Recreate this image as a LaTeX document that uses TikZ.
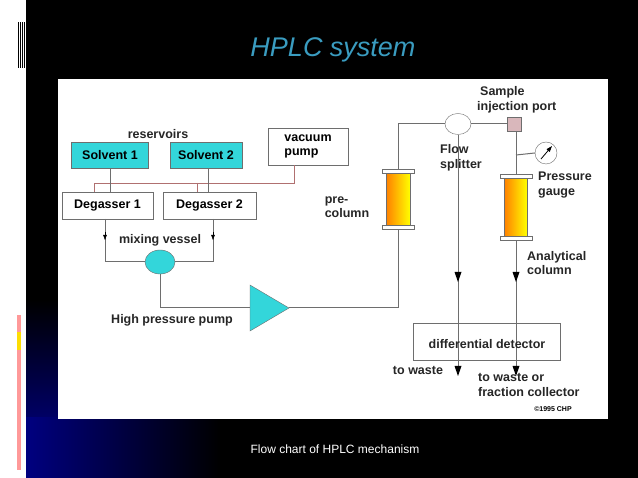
\documentclass[tikz,border=0pt]{standalone}
\usepackage{fontspec}
\setmainfont{Liberation Sans}
\usetikzlibrary{arrows.meta,shapes.geometric}
\definecolor{cy}{HTML}{33D6DA}
\definecolor{ln}{HTML}{6E6E6E}
\definecolor{rd}{HTML}{B07070}
\definecolor{inj}{HTML}{D9B7BB}
\definecolor{tt}{HTML}{3A9CC0}
\begin{document}
\begin{tikzpicture}[x=1pt,y=-1pt,
  lbl/.style={font=\fontsize{12.5}{14.5}\selectfont\bfseries, text=black!85, inner sep=0pt, align=left},
  box/.style={draw=ln, line width=0.8pt, font=\fontsize{12.5}{14.5}\selectfont\bfseries, inner sep=0pt},
  pipe/.style={draw=ln, line width=1pt},
  flange/.style={draw=ln, fill=white, line width=0.8pt}]
\useasboundingbox (0,0) rectangle (638,478);
\fill[black] (0,0) rectangle (638,478);
\fill[white] (0,0) rectangle (26,478);
\shade[bottom color=blue!60!black, top color=black] (26,300) rectangle (60,478);
\shade[left color=blue!50!black, right color=black] (26,418) rectangle (220,478);
\fill[white] (17,20) rectangle (25,70);
\foreach \i in {18,20,22,24}{\fill[black] (\i,22) rectangle (\i+0.8,68);}
\fill[pink!80!red] (17,315) rectangle (21,470);
\fill[yellow!80!orange] (17,332) rectangle (21,350);
\fill[white] (58,79) rectangle (608,419);
\node[font=\fontsize{27}{29}\selectfont\itshape, text=tt] (title) at (333,50) {HPLC system};
\node[font=\fontsize{12}{14}\selectfont, text=white] (cap) at (335,449) {Flow chart of HPLC mechanism};
% boxes
\node[box, fill=cy, minimum width=77, minimum height=26] (s1) at (110,155) {Solvent 1};
\node[box, fill=cy, minimum width=72, minimum height=26] (s2) at (206,155) {Solvent 2};
\node[box, fill=white, minimum width=80, minimum height=37, align=left] (vp) at (308,146.5) {vacuum\\pump};
\node[lbl] (res) at (158,134) {reservoirs};
\node[box, minimum width=91, minimum height=27] (d1) at (107.5,205.5) {Degasser 1};
\node[box, minimum width=93, minimum height=27] (d2) at (209.5,205.5) {Degasser 2};
\node[lbl] (mv) at (160,240) {mixing vessel};
\node[ellipse, draw=ln, fill=cy, minimum width=30, minimum height=24, inner sep=0pt] (mix) at (160,262) {};
\coordinate (pump) at (250,308);
\coordinate (apex) at (289,308);
\draw[ln, fill=cy] (250,285) -- (apex) -- (250,331) -- cycle;
\node[lbl] (hpp) at (172,320) {High pressure pump};
% vacuum lines
\coordinate (vj) at (294,183);
\draw[rd, line width=0.8pt] (vp.south -| vj) -- (vj) -- (94,183) -- (94,192);
\draw[rd, line width=0.8pt] (197,183) -- (197,192);
\draw[pipe] (s1.south -| 110,0) -- (110,192);
\draw[pipe] (s2.south -| 208,0) -- (208,192);
% to mixer
\draw[pipe] (105,219) -- (105,262) -- (mix.west);
\draw[pipe] (213,219) -- (213,262) -- (mix.east);
\draw[-{Triangle[length=5pt,width=3.5pt]},black] (105,232) -- (105,240);
\draw[-{Triangle[length=5pt,width=3.5pt]},black] (213,232) -- (213,240);
\draw[pipe] (mix.south) -- (160,308) -- (pump);
% precolumn
\coordinate (pc) at (398,124);
\node[ellipse, draw=ln, fill=white, minimum width=26, minimum height=21, inner sep=0pt] (fs) at (458,124) {};
\draw[pipe] (apex) -- (398,308) -- (pc) -- (fs.west);
\shade[left color=orange, right color=yellow] (386,172) rectangle (410,226);
\draw[ln, line width=0.6pt] (386,172) rectangle (410,226);
\draw[flange] (382,169) rectangle (414,173);
\draw[flange] (382,225) rectangle (414,229);
\node[lbl] (prec) at (347,207) {pre-\\column};
% injection
\node[draw=ln, fill=inj, minimum size=14, inner sep=0pt] (ip) at (514,124) {};
\draw[pipe] (fs.east) -- (ip.west);
\node[lbl, align=left, anchor=west] (ipl) at (477,100) {\hspace*{3pt}Sample\\injection port};
\node[lbl, align=left] (fsl) at (461,158) {Flow\\splitter};
% analytical column
\draw[pipe] (516,131) -- (516,366);
\shade[left color=orange, right color=yellow] (504,177) rectangle (527,237);
\draw[ln, line width=0.6pt] (504,177) rectangle (527,237);
\draw[flange] (500,174) rectangle (532,178);
\draw[flange] (500,236) rectangle (532,240);
\fill[black] (516,282) -- (512.5,272) -- (519.5,272) -- cycle;
% gauge
\node[circle, draw=ln, fill=white, minimum size=22, inner sep=0pt] (pg) at (546,153) {};
\draw[pipe] (516,155) -- (pg.west);
\draw[-{Triangle[length=6pt,width=4pt]}, black, line width=0.8pt] (541,159) -- (552,146);
\node[lbl, align=left, anchor=west] (pgl) at (538,185) {Pressure\\gauge};
\node[lbl, align=left, anchor=west] (acl) at (527,263) {Analytical\\column};
% splitter line
\draw[pipe] (fs.south) -- (458,366);
\fill[black] (458,282) -- (454.5,272) -- (461.5,272) -- cycle;
\node[box, minimum width=147, minimum height=37] (det) at (486.5,341.5) {};
\node[lbl] (detl) at (487,344) {differential detector};
\fill[black] (458,376) -- (454.5,366) -- (461.5,366) -- cycle;
\fill[black] (516,376) -- (512.5,366) -- (519.5,366) -- cycle;
\node[lbl] (tw) at (418,370) {to waste};
\node[lbl, align=left, anchor=west] (tfc) at (478,385) {to waste or\\fraction collector};
\node[font=\fontsize{7}{8}\selectfont\bfseries, inner sep=0pt] (cp) at (553,409) {©1995 CHP};
\end{tikzpicture}
\end{document}
